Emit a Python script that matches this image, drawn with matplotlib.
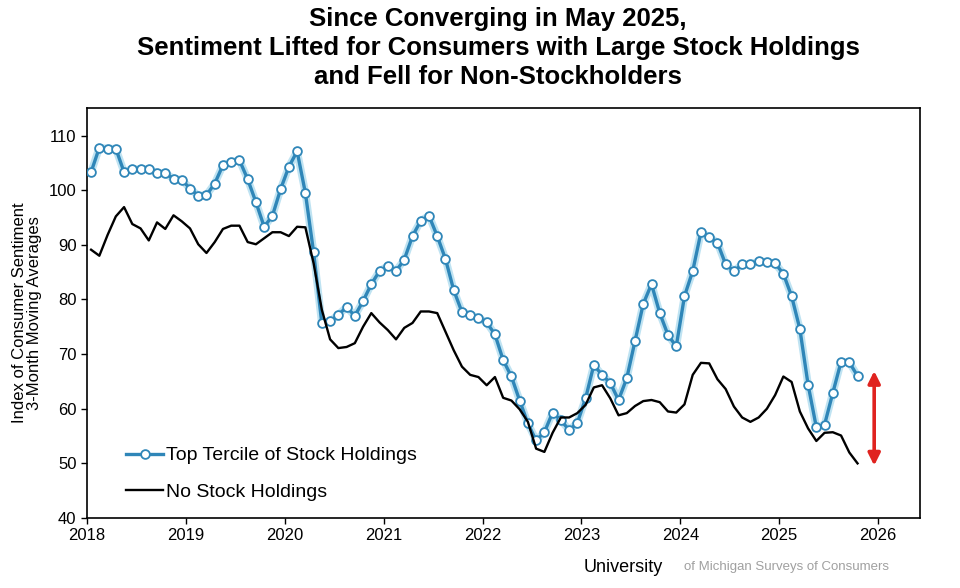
## Consumer sentiment by stock holdings, 3-month moving averages
## Monthly values Jan 2018 - Oct 2025.

import numpy as np
import matplotlib.pyplot as plt

plt.rcParams['font.family'] = ['Liberation Sans', 'DejaVu Sans']

top_tercile = [
    103.3, 107.8, 107.6, 107.6, 103.3, 103.9, 103.8, 103.9, 103.1, 103.1, 102.1, 101.9,
    100.3, 99.0, 99.1, 101.2, 104.6, 105.1, 105.5, 102.0, 97.8, 93.3, 95.3, 100.2,
    104.3, 107.1, 99.5, 88.6, 75.6, 76.0, 77.2, 78.6, 77.0, 79.7, 82.8, 85.2,
    86.1, 85.2, 87.3, 91.6, 94.4, 95.3, 91.6, 87.4, 81.7, 77.7, 77.2, 76.6,
    75.8, 73.6, 68.9, 65.9, 61.5, 57.3, 54.2, 55.7, 59.3, 57.9, 56.1, 57.4,
    61.9, 68.0, 66.2, 64.7, 61.6, 65.6, 72.4, 79.2, 82.8, 77.5, 73.5, 71.4,
    80.6, 85.2, 92.3, 91.4, 90.4, 86.4, 85.2, 86.4, 86.4, 87.0, 86.9, 86.6,
    84.7, 80.6, 74.6, 64.4, 56.6, 57.1, 62.9, 68.6, 68.5, 66.0,
]

no_stock = [
    89.1, 88.0, 91.8, 95.2, 96.9, 93.8, 93.0, 90.8, 94.1, 92.9, 95.4, 94.3,
    93.0, 90.1, 88.5, 90.5, 92.9, 93.5, 93.5, 90.5, 90.1, 91.2, 92.3, 92.3,
    91.6, 93.3, 93.2, 86.6, 78.1, 72.7, 71.1, 71.3, 72.0, 75.0, 77.5, 75.8,
    74.4, 72.7, 74.8, 75.7, 77.8, 77.8, 77.5, 74.1, 70.7, 67.7, 66.2, 65.8,
    64.3, 65.8, 62.0, 61.5, 59.9, 57.6, 52.7, 52.1, 55.6, 58.4, 58.4, 59.2,
    60.7, 63.9, 64.3, 61.9, 58.8, 59.2, 60.5, 61.4, 61.6, 61.2, 59.5, 59.3,
    60.8, 66.2, 68.4, 68.3, 65.4, 63.6, 60.4, 58.4, 57.6, 58.4, 60.0, 62.5,
    65.9, 64.9, 59.5, 56.4, 54.1, 55.6, 55.7, 55.1, 52.0, 50.0,
]

years = [2018, 2019, 2020, 2021, 2022, 2023, 2024, 2025, 2026]
yticks = [40, 50, 60, 70, 80, 90, 100, 110]

# points sit mid-month
t = 2018 + (np.arange(len(top_tercile)) + 0.5) / 12.0

fig = plt.figure(figsize=(9.6, 5.88), dpi=100)
ax = fig.add_axes([0.0906, 0.119, 0.8674, 0.697])

blue = '#2f86b8'
ax.plot(t, top_tercile, color='#bfe3f2', lw=5.5, zorder=2, solid_capstyle='round')
ax.plot(t, top_tercile, color=blue, lw=2.4, marker='o', markersize=6.3,
        markerfacecolor='white', markeredgecolor=blue, markeredgewidth=1.3,
        label='Top Tercile of Stock Holdings', zorder=3)
ax.plot(t, no_stock, color='black', lw=1.7, label='No Stock Holdings', zorder=3)

# red double-headed arrow showing the gap
ax.annotate('', xy=(2025.96, 49.6), xytext=(2025.96, 66.9),
            arrowprops=dict(arrowstyle='<|-|>', color='#e0231f', lw=2.6,
                            mutation_scale=18, shrinkA=0, shrinkB=0))

ax.set_xlim(2018, 2026.42)
ax.set_ylim(40, 115)
ax.set_xticks(years)
ax.set_xticklabels([str(y) for y in years])
ax.set_yticks(yticks)
ax.tick_params(direction='out', length=4, width=1, labelsize=12, colors='black')
for s in ax.spines.values():
    s.set_linewidth(1.2)
    s.set_color('black')

ax.set_ylabel('Index of Consumer Sentiment\n3-Month Moving Averages', fontsize=12,
              linespacing=1.0, labelpad=5)

leg = ax.legend(loc='lower left', bbox_to_anchor=(0.026, 0.0), frameon=False,
                fontsize=14, handlelength=1.9, handletextpad=0.15, labelspacing=0.95)

fig.text(0.519, 0.988,
         'Since Converging in May 2025,\n'
         'Sentiment Lifted for Consumers with Large Stock Holdings\n'
         'and Fell for Non-Stockholders',
         ha='center', va='top', fontsize=18.5, fontweight='bold', linespacing=1.25)

fig.text(0.608, 0.035, 'University', fontsize=13, ha='left', va='center')
fig.text(0.712, 0.035, 'of Michigan Surveys of Consumers', fontsize=9.5,
         ha='left', va='center', color='#a0a0a0')

fig.savefig('out.png', dpi=100)
